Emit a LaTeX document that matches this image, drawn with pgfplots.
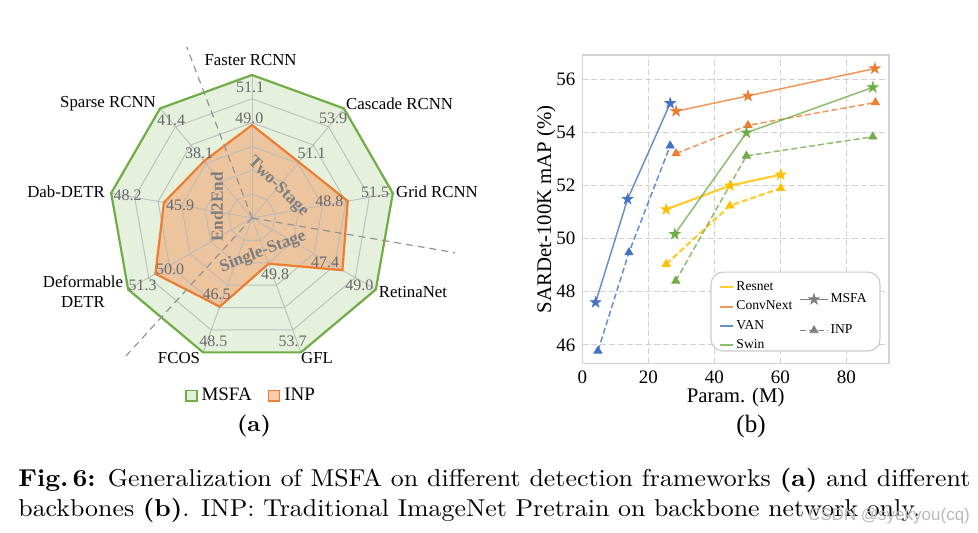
\documentclass[border=0pt]{standalone}
\usepackage{fontspec}
\usepackage{pgfplots}
\pgfplotsset{compat=1.18}
\usepackage{pgfplotstable}
\usepgfplotslibrary{polar}
\usetikzlibrary{plotmarks}
\newfontfamily\tnr{Liberation Serif}
\newfontfamily\arial{Liberation Sans}
\newfontfamily\capfont[Extension=.otf, UprightFont=*-regular, BoldFont=*-bold, FakeStretch=1.06]{lmroman10}
\definecolor{cres}{HTML}{FFC000}
\definecolor{ccnx}{HTML}{ED7D31}
\definecolor{cvan}{HTML}{4472C4}
\definecolor{cswin}{HTML}{70AD47}
\definecolor{msfafill}{RGB}{229,240,221}
\definecolor{inpfill}{RGB}{236,196,158}
\definecolor{msfaleg}{RGB}{226,239,218}
\definecolor{inpleg}{RGB}{248,203,173}
\definecolor{gridgray}{RGB}{185,185,185}
\definecolor{valgray}{RGB}{105,105,105}
\definecolor{grpgray}{RGB}{125,125,125}

% five-pointed filled star marker
\pgfdeclareplotmark{fstar}{%
  \pgfpathmoveto{\pgfpointpolar{90}{\pgfplotmarksize}}%
  \pgfpathlineto{\pgfpointpolar{126}{0.382*\pgfplotmarksize}}%
  \pgfpathlineto{\pgfpointpolar{162}{\pgfplotmarksize}}%
  \pgfpathlineto{\pgfpointpolar{198}{0.382*\pgfplotmarksize}}%
  \pgfpathlineto{\pgfpointpolar{234}{\pgfplotmarksize}}%
  \pgfpathlineto{\pgfpointpolar{270}{0.382*\pgfplotmarksize}}%
  \pgfpathlineto{\pgfpointpolar{306}{\pgfplotmarksize}}%
  \pgfpathlineto{\pgfpointpolar{342}{0.382*\pgfplotmarksize}}%
  \pgfpathlineto{\pgfpointpolar{18}{\pgfplotmarksize}}%
  \pgfpathlineto{\pgfpointpolar{54}{0.382*\pgfplotmarksize}}%
  \pgfpathclose
  \pgfusepathqfillstroke}

% radar: angle, MSFA value, INP value, normalised radii
\pgfplotstableread{
ang msfa inp rmsfa rinp
90 51.1 49.0 1 0.65
50 53.9 51.1 1 0.51
10 51.5 48.8 1 0.68
-30 49.0 47.4 1 0.73
-70 53.7 49.8 1 0.34
-110 48.5 46.5 1 0.66
-150 51.3 50.0 1 0.78
-190 48.2 45.9 1 0.625
-230 41.4 38.1 1 0.52
}\radar

\begin{document}
\begin{tikzpicture}
\path[use as bounding box] (0,0) rectangle (489pt,-266.5pt);

% ---------------- (a) radar ----------------
\begin{polaraxis}[at={(126pt,-109pt)}, anchor=center, scale only axis,
  width=143pt, height=143pt, ymin=0, ymax=1, hide axis, clip=false,
  legend columns=2,
  legend image code/.code={\draw[#1] (0pt,-2.7pt) rectangle (5.4pt,2.7pt);},
  legend style={at={(0.5,-0.122)}, anchor=center, draw=none, fill=none,
    font=\tnr\fontsize{9.5}{11}\selectfont,
    /tikz/every even column/.append style={column sep=6pt}},
  ]
\addplot[draw=none, fill=msfafill, forget plot] table[x=ang, y=rmsfa] \radar -- cycle;
\addplot[draw=none, fill=inpfill, forget plot] table[x=ang, y=rinp] \radar -- cycle;
\pgfplotsinvokeforeach{1,2,3,4,5}{
  \addplot[gridgray, line width=0.5pt, opacity=0.85, forget plot] table[x=ang, y expr=#1/6] \radar -- cycle;
}
\pgfplotsinvokeforeach{90,50,10,-30,-70,-110,-150,-190,-230}{
  \addplot[gridgray, line width=0.5pt, opacity=0.85, forget plot] coordinates {(#1,0) (#1,1)};
}
\addplot[cswin, line width=1.1pt, line join=miter, forget plot] table[x=ang, y=rmsfa] \radar -- cycle;
\addplot[ccnx, line width=1.1pt, line join=miter, forget plot] table[x=ang, y=rinp] \radar -- cycle;
\draw[gray!85, dashed, dash pattern=on 3.5pt off 2.5pt, line width=0.6pt] (axis cs:0,0) -- (axis cs:110.9,1.28);
\draw[gray!85, dashed, dash pattern=on 3.5pt off 2.5pt, line width=0.6pt] (axis cs:0,0) -- (axis cs:-9.7,1.44);
\draw[gray!85, dashed, dash pattern=on 3.5pt off 2.5pt, line width=0.6pt] (axis cs:0,0) -- (axis cs:227.6,1.33);
\addlegendimage{draw=cswin, fill=msfaleg, line width=0.8pt}
\addlegendentry{MSFA}
\addlegendimage{draw=ccnx, fill=inpleg, line width=0.8pt}
\addlegendentry{INP}
\end{polaraxis}

% category labels
\begin{scope}[every node/.style={font=\tnr\fontsize{8.4}{10}\selectfont, inner sep=0pt}]
\node at (125.3pt,-30pt) {Faster RCNN};
\node at (199.8pt,-52pt) {Cascade RCNN};
\node at (218.5pt,-96pt) {Grid RCNN};
\node at (206.5pt,-146pt) {RetinaNet};
\node at (158.5pt,-179pt) {GFL};
\node at (89.5pt,-179pt) {FCOS};
\node[align=center] at (41.5pt,-146pt) {Deformable\\DETR};
\node at (33pt,-96pt) {Dab-DETR};
\node at (54pt,-52pt) {Sparse RCNN};
\end{scope}
% value labels
\begin{scope}[every node/.style={font=\tnr\fontsize{8}{10}\selectfont, text=valgray, inner sep=0pt}]
\node at (125pt,-43.7pt) {51.1};
\node at (166.5pt,-59.2pt) {53.9};
\node at (187.5pt,-96.2pt) {51.5};
\node at (179.7pt,-142.5pt) {49.0};
\node at (146.3pt,-170.8pt) {53.7};
\node at (106.7pt,-170.8pt) {48.5};
\node at (71.3pt,-142.5pt) {51.3};
\node at (63.8pt,-97.8pt) {48.2};
\node at (85.5pt,-60pt) {41.4};
\node at (124.7pt,-59.2pt) {49.0};
\node at (155.8pt,-76.7pt) {51.1};
\node at (164.7pt,-100.8pt) {48.8};
\node at (162.5pt,-131.2pt) {47.4};
\node at (137.5pt,-137pt) {49.8};
\node at (108.3pt,-147.2pt) {46.5};
\node at (85pt,-134.5pt) {50.0};
\node at (90pt,-102.8pt) {45.9};
\node at (99.5pt,-76.7pt) {38.1};
\end{scope}
% group labels
\begin{scope}[every node/.style={font=\tnr\bfseries\fontsize{8.6}{10}\selectfont, text=grpgray, inner sep=0pt}]
\node[rotate=-44] at (139pt,-93.5pt) {Two-Stage};
\node[rotate=90] at (108.5pt,-103.5pt) {End2End};
\node[rotate=21] at (131.5pt,-126pt) {Single-Stage};
\end{scope}
\node[inner sep=0pt] at (127pt,-213pt) {\capfont\fontsize{11}{13}\selectfont\bfseries (a)};

% ---------------- (b) line chart ----------------
\begin{axis}[at={(291.2pt,-181.7pt)}, anchor=south west, scale only axis,
  width=153.3pt, height=154.2pt,
  xmin=0, xmax=92.9, ymin=45.3, ymax=56.92,
  xtick={0,20,40,60,80}, ytick={46,48,50,52,54,56},
  grid=major, major grid style={gray!35, line width=0.5pt, dash pattern=on 3pt off 1.5pt},
  axis line style={gray!35, line width=0.8pt},
  major tick length=0pt,
  /pgf/number format/assume math mode=true,
  tick label style={font=\tnr\fontsize{9.5}{11}\selectfont},
  xlabel={Param. (M)}, ylabel={SARDet-100K mAP (\%)},
  label style={font=\tnr\fontsize{10.4}{12}\selectfont},
  xlabel style={at={(axis description cs:0.5,-0.109)}, anchor=center},
  ylabel style={at={(axis description cs:-0.118,0.5)}, anchor=center},
  legend image code/.code={\draw[#1] (0pt,0pt) -- (6.5pt,0pt);},
  legend cell align=left,
  legend style={at={(axis description cs:0.4457,0.274)}, anchor=north west, draw=none, fill=none,
    inner sep=0pt, row sep=1.5pt,
    font=\tnr\fontsize{6.8}{8}\selectfont,
    nodes={inner sep=1pt, text height=4.7pt, text depth=1.4pt}},
  every axis plot/.append style={line width=0.75pt, draw opacity=0.8},
  ]
% Resnet
\addplot[cres, line width=1.1pt, mark=fstar, mark size=2.7pt, mark options={solid, fill=cres, draw opacity=1, line width=0.4pt}, forget plot]
  coordinates {(25.4,51.10) (44.7,52.00) (60.1,52.41)};
\addplot[cres, line width=1.1pt, dash pattern=on 3pt off 1.5pt, mark=triangle*, mark size=2.3pt, mark options={solid, fill=cres, draw opacity=1, line width=0.4pt}, forget plot]
  coordinates {(25.4,49.04) (44.7,51.24) (60.1,51.90)};
% ConvNext
\addplot[ccnx, mark=fstar, mark size=2.7pt, mark options={solid, fill=ccnx, draw opacity=1, line width=0.4pt}, forget plot]
  coordinates {(28.4,54.80) (50.2,55.38) (88.6,56.41)};
\addplot[ccnx, dash pattern=on 3pt off 1.5pt, mark=triangle*, mark size=2.3pt, mark options={solid, fill=ccnx, draw opacity=1, line width=0.4pt}, forget plot]
  coordinates {(28.4,53.21) (50.2,54.27) (88.8,55.13)};
% VAN
\addplot[cvan, mark=fstar, mark size=2.7pt, mark options={solid, fill=cvan, draw opacity=1, line width=0.4pt}, forget plot]
  coordinates {(4.0,47.60) (13.7,51.49) (26.6,55.10)};
\addplot[cvan, dash pattern=on 3pt off 1.5pt, mark=triangle*, mark size=2.3pt, mark options={solid, fill=cvan, draw opacity=1, line width=0.4pt}, forget plot]
  coordinates {(4.7,45.77) (14.1,49.48) (26.6,53.50)};
% Swin
\addplot[cswin, mark=fstar, mark size=2.7pt, mark options={solid, fill=cswin, draw opacity=1, line width=0.4pt}, forget plot]
  coordinates {(28.0,50.17) (49.7,53.99) (88.0,55.70)};
\addplot[cswin, dash pattern=on 3pt off 1.5pt, mark=triangle*, mark size=2.3pt, mark options={solid, fill=cswin, draw opacity=1, line width=0.4pt}, forget plot]
  coordinates {(28.3,48.41) (49.7,53.12) (88.0,53.84)};
\draw[gray!40, line width=0.6pt, fill=white, rounded corners=6pt]
  (axis description cs:0.4196,0.0399) rectangle (axis description cs:0.9707,0.296);
\addlegendimage{cres, line width=1pt}\addlegendentry{Resnet}
\addlegendimage{ccnx, line width=1pt}\addlegendentry{ConvNext}
\addlegendimage{cvan, line width=1pt}\addlegendentry{VAN}
\addlegendimage{cswin, line width=1pt}\addlegendentry{Swin}
\end{axis}
% second legend (line styles)
\begin{axis}[at={(291.2pt,-181.7pt)}, anchor=south west, scale only axis,
  width=153.3pt, height=154.2pt, hide axis, xmin=0, xmax=1, ymin=0, ymax=1,
  legend image code/.code={\draw[mark repeat=2, mark phase=2, #1] plot coordinates {(0pt,0pt) (6.9pt,0pt) (13.8pt,0pt)};},
  legend cell align=left,
  legend style={at={(axis description cs:0.7066,0.235)}, anchor=north west, draw=none, fill=none,
    inner sep=0pt, row sep=7.4pt,
    font=\tnr\fontsize{6.8}{8}\selectfont,
    nodes={inner sep=1pt, text height=4.7pt, text depth=1.4pt}},
  ]
\addlegendimage{gray, line width=0.75pt, mark=fstar, mark size=2.7pt, mark options={solid, fill=gray, line width=0.4pt}}
\addlegendentry{MSFA}
\addlegendimage{gray, line width=0.75pt, dash pattern=on 3pt off 1.5pt, mark=triangle*, mark size=2.3pt, mark options={solid, fill=gray, line width=0.4pt}}
\addlegendentry{INP}
\end{axis}
\node[font=\tnr\fontsize{12.5}{14}\selectfont, inner sep=0pt] at (375.5pt,-213.3pt) {(b)};

% ---------------- caption ----------------
\node[anchor=north west, text width=476pt, align=justify, inner sep=0pt,
  font=\capfont\fontsize{12.2}{14.7}\selectfont] at (9pt,-234pt)
  {\hyphenpenalty=10000\relax\exhyphenpenalty=10000\relax
   \textbf{Fig.\,6:} Generalization of MSFA on different detection frameworks \textbf{(a)} and different backbones \textbf{(b)}. INP: Traditional ImageNet Pretrain on backbone network only.};
\node[font=\arial\fontsize{8.5}{10}\selectfont, text=gray!55, inner sep=0pt] at (444.5pt,-258pt) {CSDN @syekyou(cq)};
\end{tikzpicture}
\end{document}
